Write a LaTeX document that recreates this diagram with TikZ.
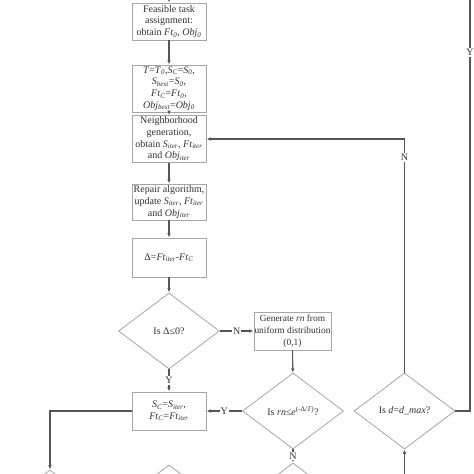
\documentclass[tikz,border=0pt]{standalone}
\usepackage{fontspec}
\setmainfont{Liberation Serif}
\usepackage{xcolor}
\definecolor{frame}{HTML}{A6A6A6}
\definecolor{ink}{HTML}{303030}
\definecolor{wire}{HTML}{555555}
\usetikzlibrary{arrows.meta,positioning,shapes.geometric}
\newcommand{\vr}[1]{\textit{#1}}
\newcommand{\vsub}[2]{\textit{#1}\textsubscript{\textit{#2}}}
\tikzset{
  every picture/.style={font=\fontsize{10}{11.7}\selectfont, line width=0.8pt},
  box/.style={draw=frame, fill=white, align=center, inner sep=0pt, text=ink, minimum width=74pt, minimum height=#1},
  box/.default=38pt,
  decision/.style={diamond, draw=frame, aspect=1.33, minimum width=101pt, minimum height=76pt, inner sep=0pt, align=center, text=ink},
  arrow/.style={-{Latex[length=4.5pt,width=3.5pt]}, draw=wire, line width=1.1pt},
  tag/.style={fill=white, inner sep=1pt, text=ink, font=\fontsize{10}{10}\selectfont},
}

\begin{document}
\begin{tikzpicture}[x=1pt, y=-1pt]
  \useasboundingbox (0,0) rectangle (474,474);
  \clip (0,0) rectangle (474,474);
  \fill[white] (0,0) rectangle (474,474);
  % main column
  \node[box=37pt] (assign) at (169,21.5) {Feasible task\\assignment:\\obtain \vsub{Ft}{0}, \vsub{Obj}{0}};
  \node[box=47pt] (init) at (169,88.5) {\vr{T}=\vsub{T}{0},\vsub{S}{C}=\vsub{S}{0},\\\vsub{S}{best}=\vsub{S}{0},\\\vsub{Ft}{C}=\vsub{Ft}{0},\\\vsub{Obj}{best}=\vsub{Obj}{0}};
  \node[box=47pt] (neigh) at (169,139) {Neighborhood\\generation,\\obtain \vsub{S}{iter}, \vsub{Ft}{iter}\\and \vsub{Obj}{iter}};
  \node[box=36pt] (repair) at (169,202) {Repair algorithm,\\update \vsub{S}{iter}, \vsub{Ft}{iter}\\and \vsub{Obj}{iter}};
  \node[box=39pt] (delta) at (169,257.5) {Δ=\vsub{Ft}{iter}-\vsub{Ft}{C}};
  \node[decision] (better) at (169,331) {Is Δ≤0?};
  \node[box=38pt] (accept) at (169,411) {\vsub{S}{C}=\vsub{S}{iter},\\\vsub{Ft}{C}=\vsub{Ft}{iter}};
  % acceptance branch
  \node[box=38pt, minimum width=77pt, font=\fontsize{9.4}{11.7}\selectfont] (gen) at (292.5,331) {Generate \vr{rn} from\\uniform distribution\\(0,1)};
  \node[decision] (metro) at (293,411) {Is \vr{rn}≤\vr{e}\textsuperscript{(-Δ/\vr{T})}?};
  \node[decision] (stop) at (404.5,411) {Is \vr{d}=\vr{d\_max}?};
  % shapes below the frame
  \node[decision] (lowleft) at (50,508) {};
  \node[decision] (lowmid) at (169,503) {};
  \node[decision] (lowright) at (293,501) {};
  \coordinate (entry) at (169,-6);
  \coordinate (exit) at (470,-6);
  \coordinate (feed) at (404.5,480);

  \draw[arrow] (entry) -- (assign);
  \draw[arrow] (assign) -- (init);
  \draw[arrow] (init) -- (neigh);
  \draw[arrow] (neigh) -- (repair);
  \draw[arrow] (repair) -- (delta);
  \draw[arrow] (delta) -- (better);
  \draw[arrow] (better) -- node[tag] {N} (gen);
  \draw[arrow] (better) -- node[tag] {Y} (accept);
  \draw[arrow] (gen) -- (metro);
  \draw[arrow] (metro) -- node[tag] {Y} (accept);
  \draw[arrow] (metro) -- node[tag] {N} (lowright);
  \draw[arrow] (accept.west) -| (lowleft.north);
  \draw[arrow] (feed) -- (stop);
  \draw[arrow] (stop.north) |- node[tag, pos=0.46] {N} (neigh.east);
  \draw[arrow] (stop.east) -| node[tag, pos=0.93] {Y} (exit);
\end{tikzpicture}
\end{document}
